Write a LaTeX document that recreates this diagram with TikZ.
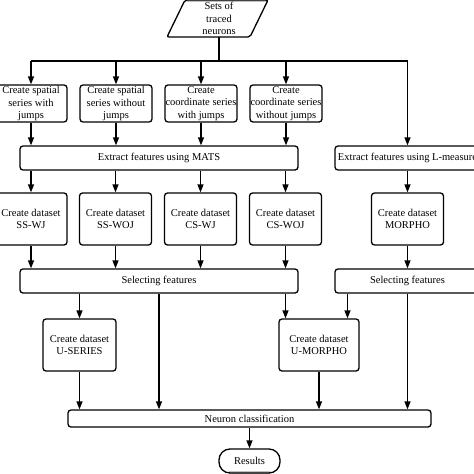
\documentclass[tikz,border=0pt]{standalone}
\usepackage{fontspec}
\setmainfont{Liberation Serif}
\usetikzlibrary{arrows.meta,calc}
\begin{document}
\begin{tikzpicture}[x=1pt,y=-1pt,
  box/.style={draw=black,line width=1.3pt,rounded corners=3pt,align=center,inner sep=0pt,
    font=\fontsize{10.5}{12.3}\selectfont},
  arr/.style={line width=1.3pt,-{Triangle[length=8pt,width=6pt]}},
  ln/.style={line width=1.3pt}]
\useasboundingbox (0,0) rectangle (474,474);
\clip (0,0) rectangle (474,474);
\fill[white] (0,0) rectangle (474,474);
% source parallelogram
\fill[black!25] (187,0) rectangle (267,1.5);
\draw[line width=1.3pt,rounded corners=2pt] (185,0) -- (268,0) -- (250,37) -- (167,37) -- cycle;
\node[align=center,inner sep=0pt,font=\fontsize{10.5}{12.3}\selectfont] (src) at (219,18.5) {Sets of\\traced\\neurons};
\coordinate (srcb) at (219,37);
\coordinate (j) at (219,61);
% row 1
\node[box,minimum width=72pt,minimum height=37pt] (a1) at (31,103.5) {Create spatial\\series with\\jumps};
\node[box,minimum width=72pt,minimum height=37pt] (a2) at (116,103.5) {Create spatial\\series without\\jumps};
\node[box,minimum width=72pt,minimum height=37pt] (a3) at (201,103.5) {Create\\coordinate series\\with jumps};
\node[box,minimum width=72pt,minimum height=37pt] (a4) at (286,103.5) {Create\\coordinate series\\without jumps};
% extract
\node[box,minimum width=278pt,minimum height=24pt] (mats) at (159,158) {Extract features using MATS};
\node[box,minimum width=145pt,minimum height=24pt] (lm) at (407.5,158) {Extract features using L-measure};
% datasets
\node[box,minimum width=72pt,minimum height=52pt] (d1) at (31,219) {Create dataset\\SS-WJ};
\node[box,minimum width=72pt,minimum height=52pt] (d2) at (115.5,219) {Create dataset\\SS-WOJ};
\node[box,minimum width=72pt,minimum height=52pt] (d3) at (200.5,219) {Create dataset\\CS-WJ};
\node[box,minimum width=72pt,minimum height=52pt] (d4) at (285.5,219) {Create dataset\\CS-WOJ};
\node[box,minimum width=72pt,minimum height=52pt] (dm) at (407.5,219) {Create dataset\\MORPHO};
% selecting
\node[box,minimum width=278pt,minimum height=24pt] (s1) at (159,281) {Selecting features};
\node[box,minimum width=145pt,minimum height=24pt] (s2) at (407.5,281) {Selecting features};
% unified datasets
\node[box,minimum width=73pt,minimum height=52pt] (u1) at (79.5,345) {Create dataset\\U-SERIES};
\node[box,minimum width=80pt,minimum height=52pt] (u2) at (319,345) {Create dataset\\U-MORPHO};
% classification
\node[box,minimum width=363pt,minimum height=17pt] (cls) at (249.5,418.5) {Neuron classification};
\fill[black!25] (229,471) rectangle (270,474);
\node[box,rounded corners=11pt,minimum width=61pt,minimum height=24pt] (res) at (249.5,461) {Results};
% connectors
\draw[ln] (srcb) -- (j);
\draw[ln] (a1.north |- j) -- (j) -- (lm.north |- j);
\draw[arr] (a1.north |- j) -- (a1.north);
\draw[arr] (a2.north |- j) -- (a2.north);
\draw[arr] (a3.north |- j) -- (a3.north);
\draw[arr] (a4.north |- j) -- (a4.north);
\draw[arr] (lm.north |- j) -- (lm.north);
\draw[arr] (a1.south) -- (a1.south |- mats.north);
\draw[arr] (a2.south) -- (a2.south |- mats.north);
\draw[arr] (a3.south) -- (a3.south |- mats.north);
\draw[arr] (a4.south) -- (a4.south |- mats.north);
\draw[arr] (d1.north |- mats.south) -- (d1.north);
\draw[arr] (d2.north |- mats.south) -- (d2.north);
\draw[arr] (d3.north |- mats.south) -- (d3.north);
\draw[arr] (d4.north |- mats.south) -- (d4.north);
\draw[arr] (lm.south) -- (dm.north);
\draw[arr] (d1.south) -- (d1.south |- s1.north);
\draw[arr] (d2.south) -- (d2.south |- s1.north);
\draw[arr] (d3.south) -- (d3.south |- s1.north);
\draw[arr] (d4.south) -- (d4.south |- s1.north);
\draw[arr] (dm.south) -- (s2.north);
\draw[arr] (u1.north |- s1.south) -- (u1.north);
\draw[arr] (s1.south) -- (s1.south |- cls.north);
\draw[arr] (d4.south |- s1.south) -- (d4.south |- u2.north);
\draw[arr] ([xshift=-60pt]s2.south) -- ([xshift=-60pt]s2.south |- u2.north);
\draw[arr] (s2.south) -- (s2.south |- cls.north);
\draw[arr] (u1.south) -- (u1.south |- cls.north);
\draw[arr] (u2.south) -- (u2.south |- cls.north);
\draw[arr] (cls.south) -- (res.north);
\end{tikzpicture}
\end{document}
